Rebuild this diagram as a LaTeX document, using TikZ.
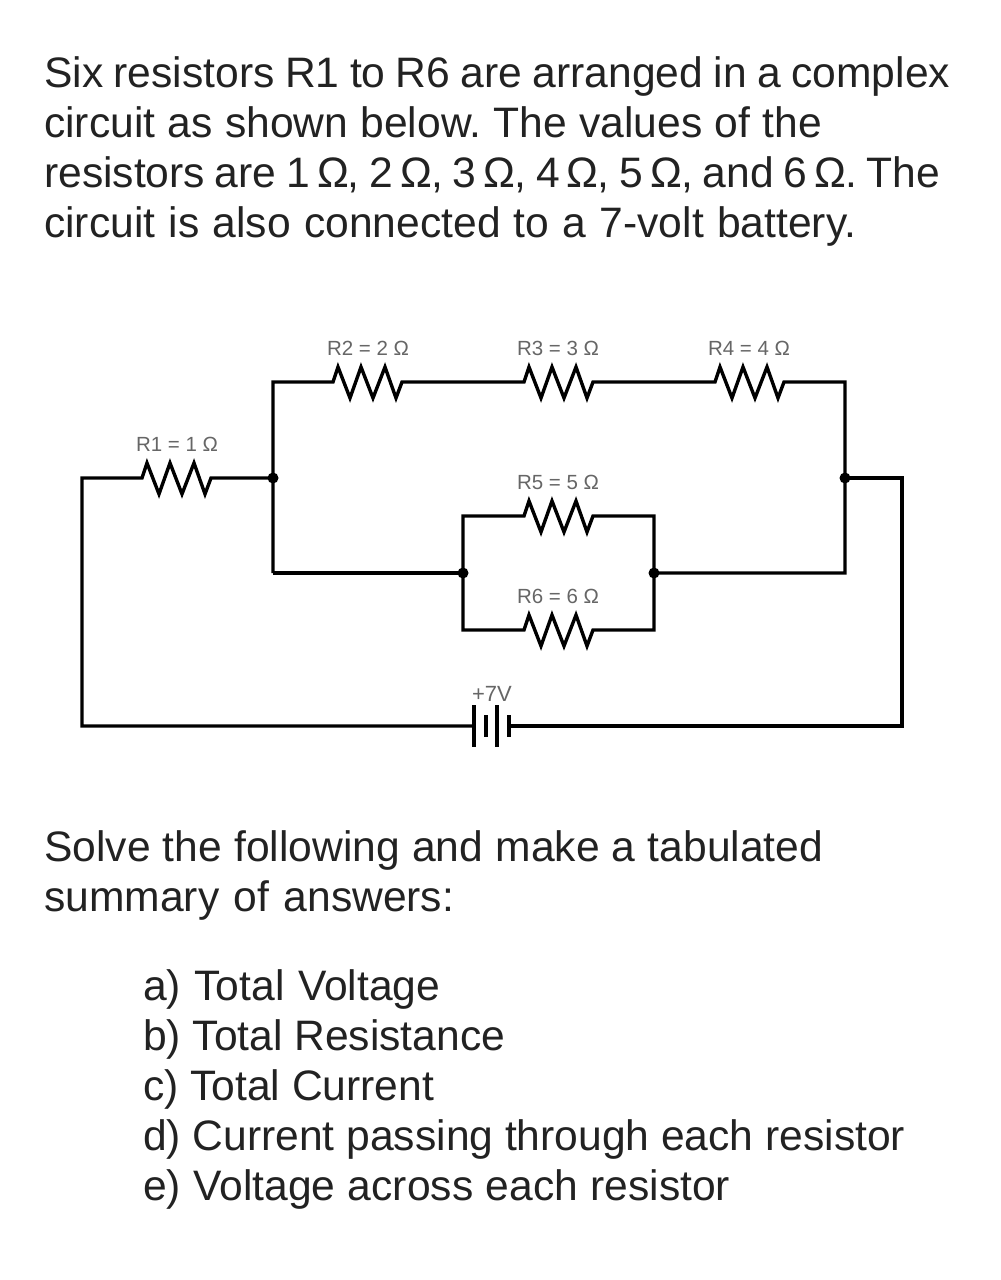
\documentclass[tikz,border=0pt]{standalone}
\usepackage{fontspec}
\setmainfont{Liberation Sans}
\usepackage{xcolor}
\usetikzlibrary{positioning}
\definecolor{bodyink}{HTML}{222222}
\definecolor{valink}{HTML}{666666}
\newcommand{\fitline}[2]{\hbox to #1pt{\frenchspacing\spaceskip=.27em plus 1fil minus 1fil #2}}
\newcommand{\ohmsign}{\kern-2.5ptΩ\kern-1pt}
\tikzset{
  bodytext/.style = {anchor=north west, align=left, inner sep=0pt, text=bodyink,
    font=\fontsize{42.6}{50}\selectfont},
  vallabel/.style = {inner sep=0pt, text=valink, font=\fontsize{20.5}{22}\selectfont},
  batlabel/.style = {inner sep=0pt, text=valink, font=\fontsize{22}{24}\selectfont},
  wire/.style = {line width=3.4pt, line join=miter, black},
  plate/.style = {line width=3.2pt, black},
  junction/.style = {circle, fill=black, inner sep=0pt, minimum size=11pt},
  zigzag/.style = {to path={-- ++(5,-15) -- ++(12,31) -- ++(11,-31) -- ++(12,31)
    -- ++(12,-31) -- ++(11,31) -- (\tikztotarget)}}
}
\begin{document}
\begin{tikzpicture}[x=1pt,y=-1pt]
  \useasboundingbox[fill=white] (0,0) rectangle (1001,1280);
  % texts
  \node[bodytext] (intro) at (44,56) {\fitline{906}{Six resistors R1 to R6 are arranged in a complex}\\
    \fitline{778}{circuit as shown below. The values of the}\\
    \fitline{896}{resistors are 1 \ohmsign, 2 \ohmsign, 3 \ohmsign, 4 \ohmsign, 5 \ohmsign, and 6 \ohmsign. The}\\
    \fitline{812}{circuit is also connected to a 7-volt battery.}};
  \node[bodytext] (task) at (44,830) {\fitline{779}{Solve the following and make a tabulated}\\
    \fitline{410}{summary of answers:}};
  \node[bodytext] (answers) at (143,969) {\fitline{297}{a) Total Voltage}\\
    \fitline{362}{b) Total Resistance}\\
    \fitline{291}{c) Total Current}\\
    \fitline{762}{d) Current passing through each resistor}\\
    \fitline{587}{e) Voltage across each resistor}};
  % corners and junctions
  \coordinate (cornerBL) at (82,726);
  \coordinate (cornerTL) at (82,478);
  \coordinate (cornerBR) at (902,726);
  \coordinate (cornerTR) at (902,478);
  \coordinate (upperL) at (273,382);
  \coordinate (upperR) at (845,382);
  \coordinate (lowerL) at (273,573);
  \coordinate (lowerR) at (845,573);
  \coordinate (boxTL) at (463,516);
  \coordinate (boxBL) at (463,630);
  \coordinate (boxTR) at (654,516);
  \coordinate (boxBR) at (654,630);
  \node[junction] (juncL) at (273,478) {};
  \node[junction] (juncR) at (845,478) {};
  \node[junction] (juncA) at (463,573) {};
  \node[junction] (juncB) at (654,573) {};
  % resistors
  \foreach \name/\xa/\yy in {r1/142/478,r2/333/382,r3/524/382,r4/715/382,r5/524/516,r6/524/630}{
    \coordinate (\name a) at (\xa,\yy);
    \coordinate (\name b) at (\xa+69,\yy);
  }
  \node[vallabel] (r1label) at (177,444) {R1 = 1 Ω};
  \node[vallabel] (r2label) at (368,348) {R2 = 2 Ω};
  \node[vallabel] (r3label) at (558,348) {R3 = 3 Ω};
  \node[vallabel] (r4label) at (749,348) {R4 = 4 Ω};
  \node[vallabel] (r5label) at (558,482) {R5 = 5 Ω};
  \node[vallabel] (r6label) at (558,596) {R6 = 6 Ω};
  \node[batlabel] (batlabel) at (492,694) {+7V};
  % battery
  \coordinate (batL) at (474,726);
  \coordinate (batR) at (509,726);
  \draw[plate] (474,705) -- (474,747);
  \draw[plate] (486,715) -- (486,737);
  \draw[plate] (497,705) -- (497,747);
  \draw[plate] (509,715) -- (509,737);
  % wires
  \draw[wire] (batL) -- (cornerBL) -- (cornerTL) -- (r1a) to[zigzag] (r1b) -- (juncL.center);
  \draw[wire] (lowerL) -- (upperL) -- (r2a) to[zigzag] (r2b) -- (r3a) to[zigzag] (r3b)
    -- (r4a) to[zigzag] (r4b) -- (upperR) -- (lowerR) -- (juncB.center);
  \draw[wire] (lowerL) -- (juncA.center);
  \draw[wire] (juncA.center) -- (boxTL) -- (r5a) to[zigzag] (r5b) -- (boxTR) -- (juncB.center);
  \draw[wire] (juncA.center) -- (boxBL) -- (r6a) to[zigzag] (r6b) -- (boxBR) -- (juncB.center);
  \draw[wire] (juncR.center) -- (cornerTR) -- (cornerBR) -- (batR);
\end{tikzpicture}
\end{document}
